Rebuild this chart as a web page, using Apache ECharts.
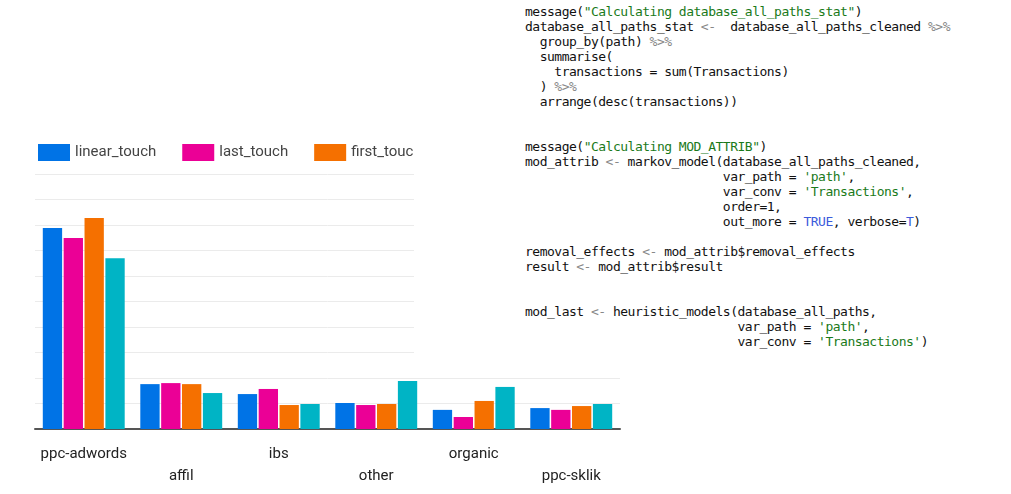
<!DOCTYPE html>
<html><head><meta charset="utf-8">
<script src="https://cdn.jsdelivr.net/npm/echarts@6/dist/echarts.min.js"></script>
<style>
body{margin:0;background:#fff}
#c{width:1011px;height:494px;position:absolute;left:0;top:0}
#code{position:absolute;left:414px;top:4px;width:597px;height:362px;background:#fff;margin:0;padding:0 0 0 111px;box-sizing:border-box;font-family:"DejaVu Sans Mono",monospace;font-size:13px;line-height:15px;color:#111;letter-spacing:-0.5px;white-space:pre}
.s{color:#1a7a1a}.o{color:#888}.k{color:#3b5bdb}
</style></head><body>
<div id="c"></div>
<pre id="code">message(<span class="s">"Calculating database_all_paths_stat"</span>)
database_all_paths_stat <span class="o">&lt;-</span>  database_all_paths_cleaned <span class="o">%&gt;%</span>
  group_by(path) <span class="o">%&gt;%</span>
  summarise(
    transactions = sum(Transactions)
  ) <span class="o">%&gt;%</span>
  arrange(desc(transactions))


message(<span class="s">"Calculating MOD_ATTRIB"</span>)
mod_attrib <span class="o">&lt;-</span> markov_model(database_all_paths_cleaned,
                           var_path = <span class="s">'path'</span>,
                           var_conv = <span class="s">'Transactions'</span>,
                           order=1,
                           out_more = <span class="k">TRUE</span>, verbose=<span class="k">T</span>)

removal_effects <span class="o">&lt;-</span> mod_attrib$removal_effects
result <span class="o">&lt;-</span> mod_attrib$result


mod_last <span class="o">&lt;-</span> heuristic_models(database_all_paths,
                             var_path = <span class="s">'path'</span>,
                             var_conv = <span class="s">'Transactions'</span>)</pre>
<script>
const categories=['ppc-adwords','affil','ibs','other','organic','ppc-sklik'];
const linearTouch=[7.88,1.76,1.37,1.02,0.75,0.82];
const lastTouch=[7.49,1.80,1.57,0.94,0.47,0.75];
const firstTouch=[8.27,1.76,0.94,0.98,1.10,0.90];
const markov=[6.70,1.41,0.98,1.88,1.65,0.98];
const chart=echarts.init(document.getElementById('c'));
chart.setOption({
  animation:false,
  legend:{left:33,top:139,itemWidth:32,itemHeight:17,itemGap:26,icon:'rect',
    textStyle:{fontSize:15,color:'#444',fontFamily:'Roboto'},
    data:['linear_touch','last_touch','first_touch']},
  grid:{left:35,right:391,top:174,bottom:65},
  xAxis:{type:'category',data:categories,
    axisLine:{lineStyle:{color:'#555',width:2}},axisTick:{show:false},
    axisLabel:{interval:0,fontSize:15,color:'#222',fontFamily:'Roboto',margin:14,
      formatter:(v,i)=>i%2?'\n'+v:v,lineHeight:22}},
  yAxis:{type:'value',min:0,max:10,interval:1,axisLabel:{show:false},
    splitLine:{lineStyle:{color:'#ebebeb'}}},
  series:[
    {name:'linear_touch',type:'bar',data:linearTouch,itemStyle:{color:'#0073e6'},barGap:'8%',barCategoryGap:'16%'},
    {name:'last_touch',type:'bar',data:lastTouch,itemStyle:{color:'#eb0096'}},
    {name:'first_touch',type:'bar',data:firstTouch,itemStyle:{color:'#f57000'}},
    {name:'markov',type:'bar',data:markov,itemStyle:{color:'#00b4c5'}}
  ]
});
</script></body></html>
